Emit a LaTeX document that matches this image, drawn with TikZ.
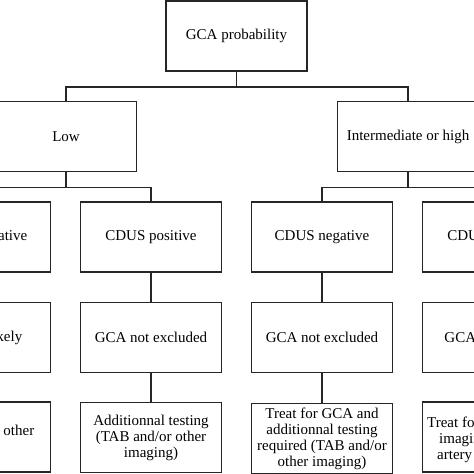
\documentclass[tikz,border=0pt]{standalone}
\usepackage{fontspec}
\setmainfont{Liberation Serif}
\begin{document}
\begin{tikzpicture}[x=1pt,y=-1pt,
  box/.style={draw=black!85,line width=1.6pt,minimum width=141pt,minimum height=70pt,inner sep=2pt,align=center,font=\fontsize{15}{16}\selectfont},
  txt/.style={inner sep=0pt,font=\fontsize{15}{16}\selectfont},
  link/.style={draw=black!85,line width=1.6pt}]
\useasboundingbox (0,0) rectangle (474,474);
\clip (0,0) rectangle (474,474);
\fill[white] (0,0) rectangle (474,474);
% level 0
\node[box] (top) at (236.5,36) {GCA probability};
% level 1
\node[box] (low) at (66,136.5) {Low};
\node[box] (mid) at (408,136.5) {Intermediate or high};
% level 2
\node[box] (c1) at (-20,237) {CDUS negative};
\node[box] (c2) at (151,237) {CDUS positive};
\node[box] (c3) at (322,237) {CDUS negative};
\node[box] (c4) at (493,237) {CDUS positive};
% level 3
\node[box] (g1) at (-20,337.5) {GCA unlikely};
\node[box] (g2) at (151,337.5) {GCA not excluded};
\node[box] (g3) at (322,337.5) {GCA not excluded};
\node[box] (g4) at (493,337.5) {GCA confirmed};
% level 4
\node[box] (t1) at (-20,437) {};
\node[txt,anchor=east] (t1a) at (34.5,430) {Look for other};
\node[box] (t2) at (151,437.5) {Additionnal testing\\(TAB and/or other\\imaging)};
\node[box] (t3) at (322,438.5) {Treat for GCA and\\additionnal testing\\required (TAB and/or\\other imaging)};
\node[box] (t4) at (493,437) {};
\node[txt,anchor=base west] (t4a) at (427,427) {Treat for GCA (no};
\node[txt,anchor=base west] (t4b) at (439,443) {imaging of};
\node[txt,anchor=base west] (t4c) at (437,459) {artery biopsy)};
% connectors
\draw[link] (top.south) -- ++(0,15) -| (low.north);
\draw[link] (top.south) -- ++(0,15) -| (mid.north);
\draw[link] (low.south) -- ++(0,15) -| (c1.north);
\draw[link] (low.south) -- ++(0,15) -| (c2.north);
\draw[link] (mid.south) -- ++(0,15) -| (c3.north);
\draw[link] (mid.south) -- ++(0,15) -| (c4.north);
\draw[link] (c1.south) -- (g1.north);
\draw[link] (c2.south) -- (g2.north);
\draw[link] (c3.south) -- (g3.north);
\draw[link] (c4.south) -- (g4.north);
\draw[link] (g1.south) -- (t1.north);
\draw[link] (g2.south) -- (t2.north);
\draw[link] (g3.south) -- (t3.north);
\draw[link] (g4.south) -- (t4.north);
\end{tikzpicture}
\end{document}
